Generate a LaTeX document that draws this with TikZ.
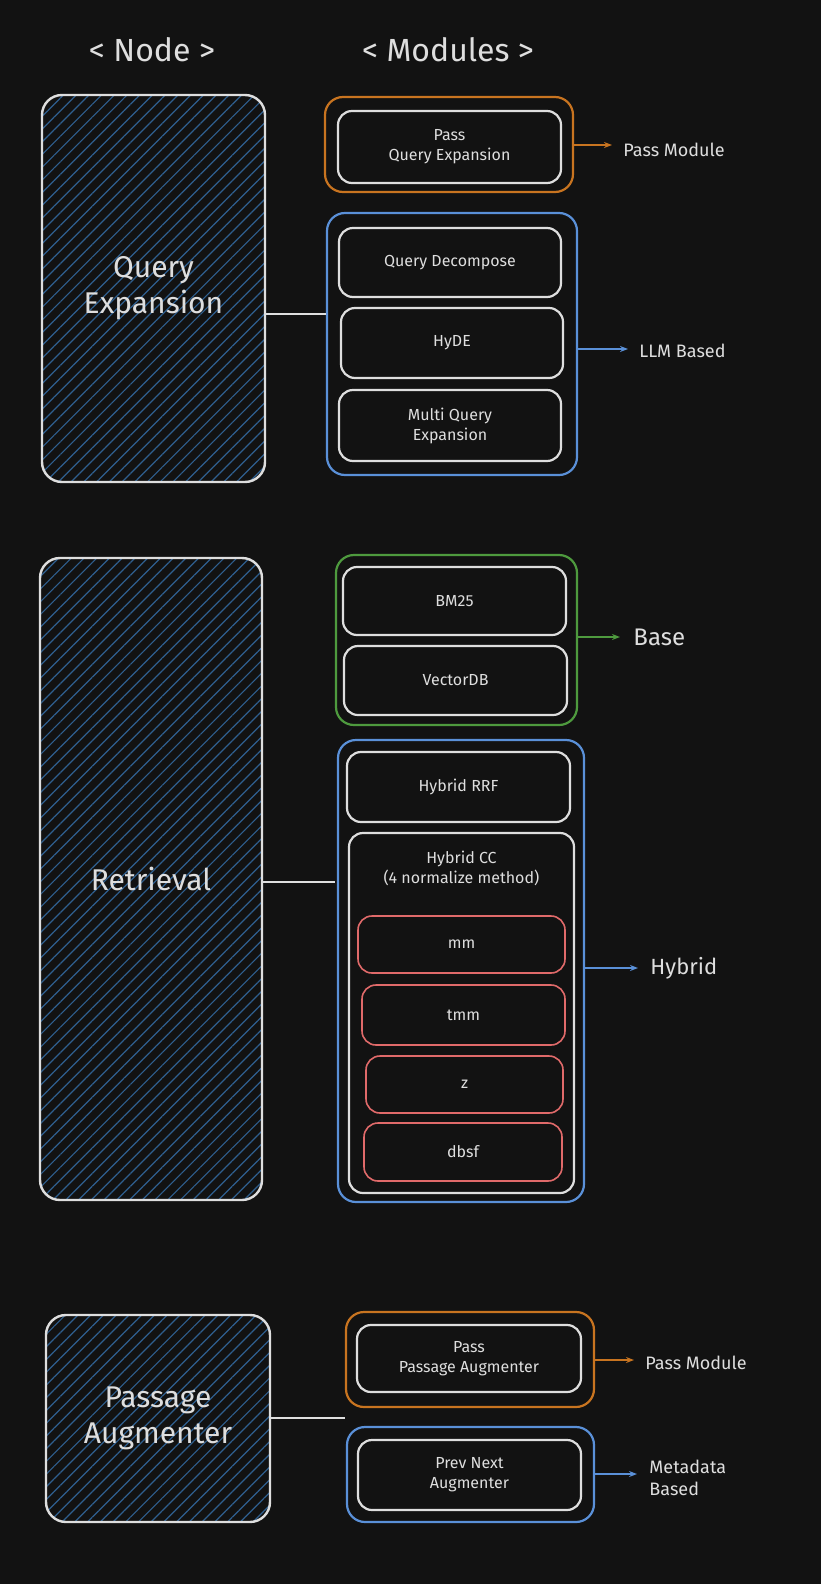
\documentclass[tikz,border=0pt]{standalone}
\usepackage{fontspec}
\setmainfont{Fira Sans}
\usetikzlibrary{patterns.meta,arrows.meta}
\definecolor{bg}{HTML}{121212}
\definecolor{ink}{HTML}{DEDEDE}
\definecolor{hatch}{HTML}{2F5F8F}
\definecolor{passc}{HTML}{C87420}
\definecolor{llmc}{HTML}{5A90D8}
\definecolor{basec}{HTML}{4E9A3E}
\definecolor{normc}{HTML}{E06A6A}
\begin{document}
\begin{tikzpicture}[x=0.5pt,y=-0.5pt,thick,
  sz/.style 2 args={minimum width=#1*0.5pt,minimum height=#2*0.5pt,inner sep=0pt},
  stage node/.style={draw=ink,line width=1.2pt,rounded corners=10pt,fill=bg,
    pattern={Lines[angle=45,distance=4.5pt,line width=0.6pt]},pattern color=hatch,
    text=ink,align=center,font=\fontsize{15}{18}\selectfont},
  group node/.style={draw=#1,line width=1.1pt,rounded corners=9pt},
  module node/.style={draw=ink,line width=1.1pt,rounded corners=7pt,text=ink,
    align=center,font=\fontsize{8}{10}\selectfont},
  norm node/.style={draw=normc,line width=0.8pt,rounded corners=7pt,text=ink,
    font=\fontsize{8}{10}\selectfont},
  tag node/.style={text=ink,align=left,anchor=west,font=\fontsize{9}{11}\selectfont},
  link/.style={draw=ink,line width=1.1pt},
  tag arrow/.style={->,>={Stealth[length=4pt]},draw=#1,line width=0.9pt}]

  \useasboundingbox (0,0) rectangle (820,1584);
  \fill[bg] (-20,-20) rectangle (840,1604);

  % headers
  \node[text=ink,font=\fontsize{16}{18}\selectfont] (nodehead) at (152,50) {< Node >};
  \node[text=ink,font=\fontsize{16}{18}\selectfont] (modhead) at (448,50) {< Modules >};

  % query expansion
  \node[stage node,sz={223}{387}] (qe) at (153.5,288.5) {Query\\Expansion};
  \node[group node=passc,sz={248}{95}] (qepass) at (449,144.5) {};
  \node[module node,sz={223}{72}] (passqe) at (449.5,147) {Pass\\Query Expansion};
  \node[group node=llmc,sz={250}{262}] (qellm) at (452,344) {};
  \node[module node,sz={222}{69}] (qd) at (450,262.5) {Query Decompose};
  \node[module node,sz={222}{70}] (hyde) at (452,343) {HyDE};
  \node[module node,sz={222}{71}] (mqe) at (450,425.5) {Multi Query\\Expansion};
  \coordinate (qepassend) at (612,145);
  \coordinate (qellmend) at (628,349);
  \node[tag node] (qepasstag) at (616,150) {Pass Module};
  \node[tag node] (qellmtag) at (632,351) {LLM Based};
  \draw[link] (qe.east |- 0,314) -- (qellm.west |- 0,314);
  \draw[tag arrow=passc] (qepass.east |- qepassend) -- (qepassend);
  \draw[tag arrow=llmc] (qellm.east |- qellmend) -- (qellmend);

  % retrieval
  \node[stage node,sz={222}{642}] (ret) at (151,879) {Retrieval};
  \node[group node=basec,sz={241}{170}] (retbase) at (456.5,640) {};
  \node[module node,sz={223}{68}] (bm) at (454.5,601) {BM25};
  \node[module node,sz={223}{69}] (vdb) at (455.5,680.5) {VectorDB};
  \node[group node=llmc,sz={246}{462}] (rethyb) at (461,971) {};
  \node[module node,sz={223}{70}] (rrf) at (458.5,787) {Hybrid RRF};
  \node[module node,sz={225}{360}] (cc) at (461.5,1013) {};
  \node[text=ink,align=center,font=\fontsize{8}{10}\selectfont] (cctext) at (461.5,868)
    {Hybrid CC\\(4 normalize method)};
  \node[norm node,sz={207}{57}] (mm) at (461.5,944.5) {mm};
  \node[norm node,sz={203}{60}] (tmm) at (463.5,1015) {tmm};
  \node[norm node,sz={197}{57}] (zn) at (464.5,1084.5) {z};
  \node[norm node,sz={198}{58}] (dbsf) at (463,1152) {dbsf};
  \coordinate (basend) at (620,637);
  \coordinate (hybend) at (638,968);
  \node[tag node,font=\fontsize{12}{14}\selectfont] (basetag) at (626,637) {Base};
  \node[tag node,font=\fontsize{11}{13}\selectfont] (hybtag) at (643,968) {Hybrid};
  \draw[link] (ret.east |- 0,882) -- (335,882);
  \draw[tag arrow=basec] (retbase.east |- basend) -- (basend);
  \draw[tag arrow=llmc] (rethyb.east |- hybend) -- (hybend);

  % passage augmenter
  \node[stage node,sz={224}{207}] (pa) at (158,1418.5) {Passage\\Augmenter};
  \node[group node=passc,sz={248}{95}] (papass) at (470,1359.5) {};
  \node[module node,sz={224}{67}] (passpa) at (469,1358.5) {Pass\\Passage Augmenter};
  \node[group node=llmc,sz={247}{95}] (pameta) at (470.5,1474.5) {};
  \node[module node,sz={223}{70}] (prevnext) at (469.5,1475) {Prev Next\\Augmenter};
  \coordinate (papassend) at (634,1360);
  \coordinate (pametaend) at (637,1474);
  \node[tag node] (papasstag) at (638,1363) {Pass Module};
  \node[tag node] (pametatag) at (642,1478) {Metadata\\Based};
  \draw[link] (pa.east |- 0,1418) -- (papass.west |- 0,1418);
  \draw[tag arrow=passc] (papass.east |- papassend) -- (papassend);
  \draw[tag arrow=llmc] (pameta.east |- pametaend) -- (pametaend);
\end{tikzpicture}
\end{document}
